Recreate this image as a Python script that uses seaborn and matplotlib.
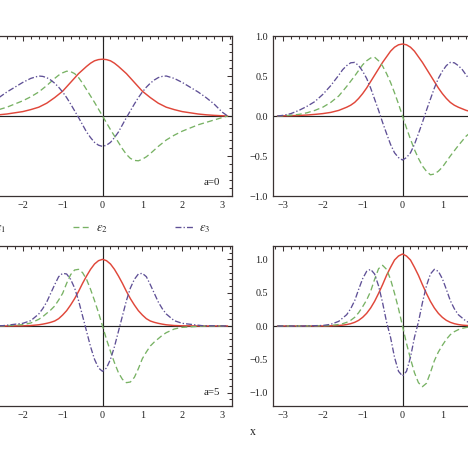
import numpy as np
import pandas as pd
import matplotlib
matplotlib.use("Agg")
import matplotlib.pyplot as plt
from matplotlib.ticker import MultipleLocator
import seaborn as sns

# x grids (finer steps near the middle where the curves bend most)
x_top = [-3.14, -3.0, -2.8, -2.6, -2.4, -2.2, -2.0, -1.8,
         -1.6, -1.5, -1.4, -1.3, -1.2, -1.1, -1.0, -0.9, -0.8, -0.7, -0.6, -0.5, -0.4,
         -0.3, -0.2, -0.1, 0.0, 0.1, 0.2, 0.3, 0.4, 0.5, 0.6, 0.7, 0.8, 0.9, 1.0, 1.1,
         1.2, 1.3, 1.4, 1.5, 1.6,
         1.8, 2.0, 2.2, 2.4, 2.6, 2.8, 3.0, 3.14]
x_bot = [-3.14, -2.5, -2.0, -1.8, -1.6, -1.5, -1.4, -1.3, -1.2, -1.1, -1.0, -0.9, -0.8,
         -0.7, -0.6, -0.5, -0.4, -0.3, -0.2, -0.1, 0.0, 0.1, 0.2, 0.3, 0.4, 0.5, 0.6, 0.7,
         0.8, 0.9, 1.0, 1.1, 1.2, 1.3, 1.4, 1.5, 1.6, 1.8, 2.0, 2.5, 3.14]

# panel a=0 (top left)
e1_a0 = [0.0, 0.003, 0.008, 0.015, 0.025, 0.04, 0.055, 0.08,
         0.11, 0.135, 0.16, 0.195, 0.23, 0.27, 0.31, 0.365, 0.42, 0.475, 0.53, 0.575, 0.62,
         0.66, 0.69, 0.705, 0.71, 0.705, 0.69, 0.66, 0.62, 0.575, 0.53, 0.475, 0.42, 0.365,
         0.31, 0.27, 0.23, 0.195, 0.16, 0.135, 0.11,
         0.08, 0.055, 0.04, 0.025, 0.015, 0.008, 0.003, 0.0]
e2_a0 = [0.0, 0.02, 0.05, 0.08, 0.11, 0.15, 0.19, 0.24,
         0.30, 0.34, 0.38, 0.425, 0.47, 0.51, 0.54, 0.56, 0.555, 0.53, 0.48, 0.41, 0.33,
         0.25, 0.17, 0.085, 0.0, -0.085, -0.17, -0.25, -0.33, -0.41, -0.48, -0.53, -0.555,
         -0.56, -0.54, -0.51, -0.47, -0.425, -0.38, -0.34, -0.30,
         -0.24, -0.19, -0.15, -0.11, -0.08, -0.05, -0.02, 0.0]
e3_a0 = [0.0, 0.05, 0.15, 0.23, 0.30, 0.36, 0.42, 0.47,
         0.50, 0.495, 0.48, 0.45, 0.41, 0.36, 0.30, 0.23, 0.15, 0.065, -0.02, -0.11, -0.20,
         -0.27, -0.33, -0.365, -0.38, -0.365, -0.33, -0.27, -0.20, -0.11, -0.02, 0.065,
         0.15, 0.23, 0.30, 0.36, 0.41, 0.45, 0.48, 0.495, 0.50,
         0.47, 0.42, 0.36, 0.30, 0.23, 0.15, 0.05, 0.0]

# top right panel
e1_tr = [0.001, 0.002, 0.004, 0.007, 0.012, 0.02, 0.03, 0.045,
         0.07, 0.09, 0.11, 0.135, 0.17, 0.22, 0.28, 0.35, 0.43, 0.51, 0.59, 0.67, 0.74,
         0.81, 0.86, 0.89, 0.90, 0.89, 0.86, 0.81, 0.74, 0.67, 0.59, 0.51, 0.43, 0.35,
         0.28, 0.22, 0.17, 0.135, 0.11, 0.09, 0.07,
         0.045, 0.03, 0.02, 0.012, 0.007, 0.004, 0.002, 0.001]
e2_tr = [0.0, 0.003, 0.01, 0.02, 0.04, 0.07, 0.11, 0.17,
         0.25, 0.31, 0.37, 0.435, 0.50, 0.57, 0.64, 0.69, 0.725, 0.735, 0.69, 0.625, 0.53,
         0.42, 0.29, 0.15, 0.0, -0.15, -0.29, -0.42, -0.53, -0.625, -0.69, -0.735, -0.725,
         -0.69, -0.64, -0.57, -0.50, -0.435, -0.37, -0.31, -0.25,
         -0.17, -0.11, -0.07, -0.04, -0.02, -0.01, -0.003, 0.0]
e3_tr = [0.0, 0.008, 0.03, 0.07, 0.12, 0.18, 0.27, 0.38,
         0.51, 0.58, 0.63, 0.665, 0.67, 0.63, 0.56, 0.47, 0.35, 0.21, 0.07, -0.08, -0.22,
         -0.355, -0.46, -0.52, -0.55, -0.52, -0.46, -0.355, -0.22, -0.08, 0.07, 0.21, 0.35,
         0.47, 0.56, 0.63, 0.67, 0.665, 0.63, 0.58, 0.51,
         0.38, 0.27, 0.18, 0.12, 0.07, 0.03, 0.008, 0.0]

# panel a=5 (bottom left)
e1_a5 = [0.0, 0.0, 0.003, 0.007, 0.018, 0.028, 0.04, 0.055, 0.075, 0.11, 0.165, 0.23, 0.315,
         0.41, 0.52, 0.64, 0.75, 0.85, 0.93, 0.98, 1.0, 0.98, 0.93, 0.85, 0.75, 0.64, 0.52,
         0.41, 0.315, 0.23, 0.165, 0.11, 0.075, 0.055, 0.04, 0.028, 0.018, 0.007, 0.003,
         0.0, 0.0]
e2_a5 = [0.0, 0.002, 0.02, 0.045, 0.10, 0.14, 0.19, 0.24, 0.30, 0.39, 0.49, 0.64, 0.77,
         0.84, 0.85, 0.80, 0.70, 0.55, 0.38, 0.20, 0.0, -0.20, -0.38, -0.55, -0.70, -0.80,
         -0.85, -0.84, -0.77, -0.64, -0.49, -0.39, -0.30, -0.24, -0.19, -0.14, -0.10,
         -0.045, -0.02, -0.002, 0.0]
e3_a5 = [0.0, 0.005, 0.04, 0.08, 0.18, 0.26, 0.36, 0.49, 0.62, 0.74, 0.79, 0.78, 0.70,
         0.57, 0.38, 0.15, -0.08, -0.31, -0.50, -0.63, -0.68, -0.63, -0.50, -0.31, -0.08,
         0.15, 0.38, 0.57, 0.70, 0.78, 0.79, 0.74, 0.62, 0.49, 0.36, 0.26, 0.18, 0.08,
         0.04, 0.005, 0.0]

# bottom right panel
e1_br = [0.0, 0.0, 0.001, 0.003, 0.008, 0.013, 0.022, 0.035, 0.055, 0.085, 0.13, 0.19, 0.27,
         0.37, 0.49, 0.62, 0.76, 0.88, 0.99, 1.05, 1.08, 1.05, 0.99, 0.88, 0.76, 0.62, 0.49,
         0.37, 0.27, 0.19, 0.13, 0.085, 0.055, 0.035, 0.022, 0.013, 0.008, 0.003, 0.001,
         0.0, 0.0]
e2_br = [0.0, 0.0, 0.003, 0.008, 0.022, 0.035, 0.055, 0.085, 0.13, 0.20, 0.29, 0.39, 0.52,
         0.70, 0.86, 0.91, 0.85, 0.70, 0.49, 0.26, 0.0, -0.26, -0.49, -0.70, -0.85, -0.91,
         -0.86, -0.70, -0.52, -0.39, -0.29, -0.20, -0.13, -0.085, -0.055, -0.035, -0.022,
         -0.008, -0.003, 0.0, 0.0]
e3_br = [0.0, 0.0, 0.008, 0.025, 0.07, 0.12, 0.17, 0.26, 0.38, 0.55, 0.71, 0.82, 0.85,
         0.78, 0.60, 0.35, 0.06, -0.17, -0.47, -0.68, -0.75, -0.68, -0.47, -0.17, 0.06,
         0.35, 0.60, 0.78, 0.85, 0.82, 0.71, 0.55, 0.38, 0.26, 0.17, 0.12, 0.07, 0.025,
         0.008, 0.0, 0.0]

x_ticks = [-3, -2, -1, 0, 1, 2, 3]
y_ticks = [-1.0, -0.5, 0.0, 0.5, 1.0]
legend_labels = [r'$\epsilon_1$', r'$\epsilon_2$', r'$\epsilon_3$']

sns.set_theme(style="white")
plt.rcParams['font.family'] = ['Liberation Serif', 'DejaVu Serif']
plt.rcParams['mathtext.fontset'] = 'stix'

RED = '#e0473a'
GREEN = '#78b264'
PURPLE = '#5f5096'
FRAME = '#3a3232'

fig = plt.figure(figsize=(4.68, 4.68), dpi=100)

W = 259 / 468
H = 160 / 468
panels = [
    # left, bottom, x, curves, ylim, label, left column?
    (-27 / 468, 1 - 196 / 468, x_top, (e1_a0, e2_a0, e3_a0), 1.0, 'a=0', True),
    (273 / 468, 1 - 196 / 468, x_top, (e1_tr, e2_tr, e3_tr), 1.0, None, False),
    (-27 / 468, 1 - 406 / 468, x_bot, (e1_a5, e2_a5, e3_a5), 1.2, 'a=5', True),
    (273 / 468, 1 - 406 / 468, x_bot, (e1_br, e2_br, e3_br), 1.2, None, False),
]

handles = None
for left, bottom, xs, curves, ylim, label, is_left in panels:
    ax = fig.add_axes([left, bottom, W, H])
    ax.axhline(0, color='#222222', lw=0.85, zorder=1)
    ax.axvline(0, color='#222222', lw=0.85, zorder=1)
    sns.lineplot(x=xs, y=curves[0], ax=ax, color=RED, lw=1.05)
    sns.lineplot(x=xs, y=curves[1], ax=ax, color=GREEN, lw=0.95,
                 linestyle=(0, (4.5, 2.5)))
    sns.lineplot(x=xs, y=curves[2], ax=ax, color=PURPLE, lw=0.95,
                 linestyle=(0, (4.5, 1.6, 1.0, 1.6)))
    handles = ax.get_lines()[2:5]
    ax.set_xlim(-3.25, 3.25)
    ax.set_ylim(-ylim, ylim)
    ax.set_xticks(x_ticks)
    ax.set_yticks(y_ticks)
    ax.set_yticklabels([f'{v:.1f}'.replace('-', '\u2212') for v in y_ticks])
    ax.xaxis.set_minor_locator(MultipleLocator(0.2))
    ax.yaxis.set_minor_locator(MultipleLocator(0.1))
    ax.tick_params(which='both', direction='in', top=True, right=True,
                   color=FRAME, width=0.75, labelsize=7.3, labelcolor='#222222')
    ax.tick_params(which='major', length=3.4, pad=3.5)
    ax.tick_params(which='minor', length=1.9)
    if is_left:
        # y tick labels of the left column lie outside the cropped picture
        ax.tick_params(axis='y', labelleft=False)
    for s in ax.spines.values():
        s.set_color(FRAME)
        s.set_linewidth(0.9)
    ax.set_xlabel('')
    ax.set_ylabel('')
    if label:
        ax.text(0.955, 0.085, label, transform=ax.transAxes, ha='right', va='center',
                fontsize=7.8, color='#222222')

fig.legend(handles, legend_labels, ncol=3, loc='center left',
           bbox_to_anchor=(-29 / 468, 1 - 229 / 468), frameon=False, fontsize=9,
           handlelength=1.45, handletextpad=0.45, columnspacing=5.35,
           borderpad=0, borderaxespad=0)

fig.text(253 / 468, 1 - 432 / 468, 'x', ha='center', va='center', fontsize=8.5,
         color='#222222')

fig.savefig('out.png', dpi=100)
